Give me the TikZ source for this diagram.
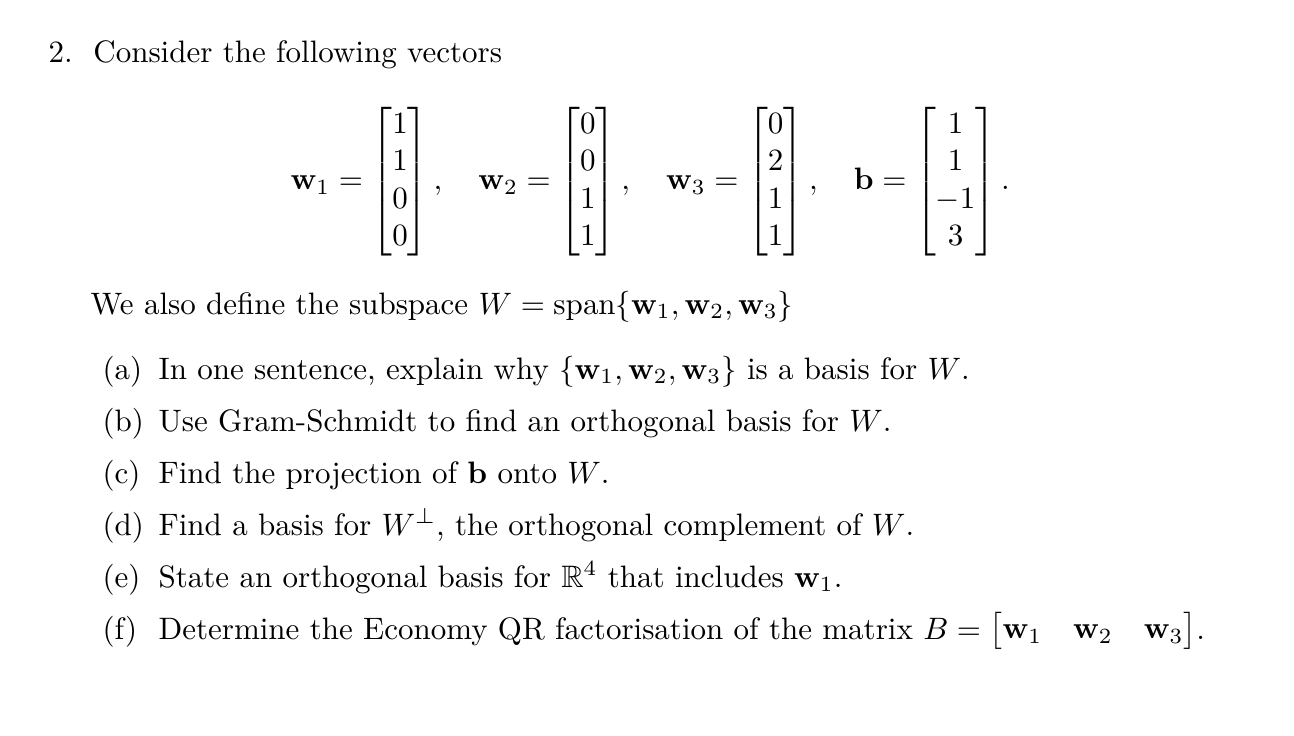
\documentclass[tikz,border=0pt]{standalone}
\usepackage{amsmath,amssymb}
\begin{document}
\begin{tikzpicture}[x=1pt,y=-1pt,txt/.style={anchor=base west,inner sep=0pt,scale=3.1,transform shape,font=\fontsize{10}{12}\selectfont}]
\useasboundingbox (0,0) rectangle (1294,736);
\node[txt] (h) at (48,62) {2.\ \ Consider the following vectors};
\node[txt,anchor=west] (v) at (290,182) {$\displaystyle \mathbf{w}_1=\begin{bmatrix}1\\1\\0\\0\end{bmatrix},\quad \mathbf{w}_2=\begin{bmatrix}0\\0\\1\\1\end{bmatrix},\quad \mathbf{w}_3=\begin{bmatrix}0\\2\\1\\1\end{bmatrix},\quad \mathbf{b}=\begin{bmatrix}1\\1\\-1\\3\end{bmatrix}.$};
\node[txt] (d) at (90,314) {We also define the subspace $W=\operatorname{span}\{\mathbf{w}_1,\mathbf{w}_2,\mathbf{w}_3\}$};
\foreach \l/\t/\y [count=\i] in {
 (a)/{In one sentence, explain why $\{\mathbf{w}_1,\mathbf{w}_2,\mathbf{w}_3\}$ is a basis for $W$.}/379,
 (b)/{Use Gram-Schmidt to find an orthogonal basis for $W$.}/431,
 (c)/{Find the projection of $\mathbf{b}$ onto $W$.}/483,
 (d)/{Find a basis for $W^{\perp}$, the orthogonal complement of $W$.}/535,
 (e)/{State an orthogonal basis for $\mathbb{R}^4$ that includes $\mathbf{w}_1$.}/587,
 (f)/{Determine the Economy QR factorisation of the matrix $B=\begin{bmatrix}\mathbf{w}_1&\mathbf{w}_2&\mathbf{w}_3\end{bmatrix}$.}/639}
{\node[txt] (l\i) at (102,\y) {\l}; \node[txt] (t\i) at (158,\y) {\t};}
\end{tikzpicture}
\end{document}
